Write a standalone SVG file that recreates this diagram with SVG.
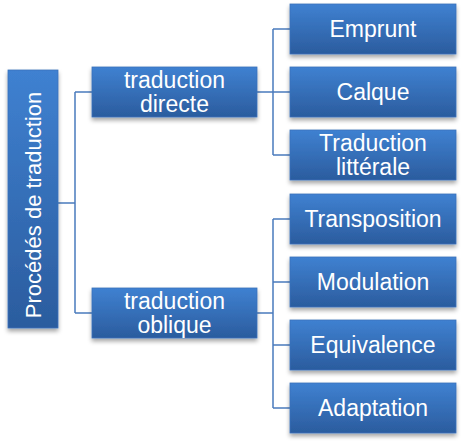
<svg xmlns="http://www.w3.org/2000/svg" width="468" height="445" viewBox="0 0 468 445">
<defs>
<linearGradient id="g" x1="0" y1="0" x2="0" y2="1">
<stop offset="0" stop-color="#3f81d1"/>
<stop offset="1" stop-color="#2b5c9e"/>
</linearGradient>
<filter id="sh" x="-20%" y="-20%" width="140%" height="150%">
<feDropShadow dx="0" dy="3" stdDeviation="2" flood-color="#000" flood-opacity="0.35"/>
</filter>
<style>
.box{fill:url(#g);stroke:#3a72bb;stroke-width:0.8;filter:url(#sh)}
.t{font-family:"Liberation Sans",Arial,sans-serif;font-size:23px;fill:#fff;text-anchor:middle}
.r{font-size:22px}
.c{fill:none;stroke:#4a7bbd;stroke-width:1.5}
</style>
</defs>
<rect width="468" height="445" fill="#fff"/>
<g id="connectors">
<path class="c" d="M58,203 H75 M75,92 V313 M75,92 H92 M75,313 H92"/>
<path class="c" d="M257,92 H273 M273,29 V155 M273,29 H290 M273,92 H290 M273,155 H290"/>
<path class="c" d="M257,313 H273 M273,219 V408 M273,219 H290 M273,282 H290 M273,345 H290 M273,408 H290"/>
</g>
<g id="root">
<rect class="box" x="8" y="70" width="50" height="258"/>
<text class="t r" transform="translate(41,205) rotate(-90)" x="0" y="0">Procédés de traduction</text>
</g>
<g id="directe">
<rect class="box" x="92" y="67" width="165" height="50"/>
<text class="t" x="174.5" y="88">traduction</text>
<text class="t" x="174.5" y="112">directe</text>
</g>
<g id="oblique">
<rect class="box" x="92" y="288" width="165" height="50"/>
<text class="t" x="174.5" y="309">traduction</text>
<text class="t" x="174.5" y="333">oblique</text>
</g>
<g id="emprunt">
<rect class="box" x="290" y="4" width="166" height="50"/>
<text class="t" x="373" y="37">Emprunt</text>
</g>
<g id="calque">
<rect class="box" x="290" y="67" width="166" height="50"/>
<text class="t" x="373" y="100">Calque</text>
</g>
<g id="litterale">
<rect class="box" x="290" y="130" width="166" height="50"/>
<text class="t" x="373" y="151">Traduction</text>
<text class="t" x="373" y="175">littérale</text>
</g>
<g id="transposition">
<rect class="box" x="290" y="194" width="166" height="50"/>
<text class="t" x="373" y="227">Transposition</text>
</g>
<g id="modulation">
<rect class="box" x="290" y="257" width="166" height="50"/>
<text class="t" x="373" y="290">Modulation</text>
</g>
<g id="equivalence">
<rect class="box" x="290" y="320" width="166" height="50"/>
<text class="t" x="373" y="353">Equivalence</text>
</g>
<g id="adaptation">
<rect class="box" x="290" y="383" width="166" height="50"/>
<text class="t" x="373" y="416">Adaptation</text>
</g>
</svg>
